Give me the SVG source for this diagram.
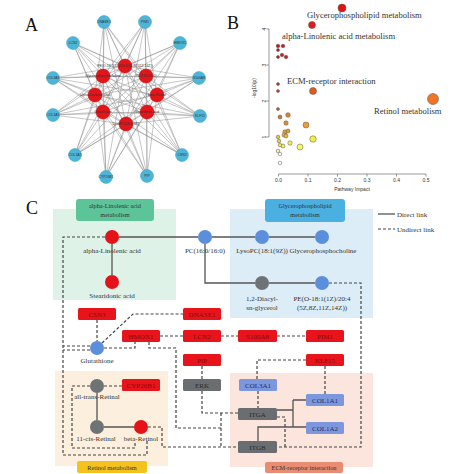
<svg xmlns="http://www.w3.org/2000/svg" width="474" height="474" viewBox="0 0 474 474">
<style>
text{font-family:"Liberation Serif","Times New Roman",serif;}
.pl{font-size:18px;fill:#111;}
.an{font-size:3.4px;fill:#333;text-anchor:middle;font-family:"Liberation Sans",Arial,sans-serif;}
.bl{fill:#4db5d8;stroke:#3a9fc2;stroke-width:0.5;}
.rd{fill:#e4141b;stroke:#c00;stroke-width:0.5;}
.ae{stroke:#8a8a8a;stroke-width:0.6;fill:none;opacity:0.8;}
.bc{stroke:#555;stroke-width:0.5;}
.bt{font-size:8.6px;fill:#333;}
.tk{font-size:5px;fill:#333;text-anchor:middle;font-family:"Liberation Sans",Arial,sans-serif;}
.ax{stroke:#555;stroke-width:0.6;fill:none;}
.lb{font-size:7px;fill:#333;text-anchor:middle;}
.hd{font-size:6.3px;fill:#333;text-anchor:middle;}
.sol{stroke:#555;stroke-width:1.3;fill:none;}
.dsh{stroke:#444;stroke-width:1.2;fill:none;stroke-dasharray:3 2;}
.cr{fill:#e4131a;}
.cb{fill:#5b8fdc;}
.cg{fill:#6e7376;}
.rr{fill:#e8141c;}
.rt{font-size:7px;fill:#8b0a0a;text-anchor:middle;}
.gr{fill:#6b6e70;}
.gt{font-size:7px;fill:#2a2a2a;text-anchor:middle;}
.br{fill:#7d97dc;}
.btx{font-size:7px;fill:#1d2d6a;text-anchor:middle;}
</style>

<!-- Panel A -->
<text class="pl" x="25" y="31">A</text>
<g id="A-edges">
<path class="ae" d="M104 22L125 66M104 22L103 76M104 22L146 76M104 22L95 95M104 22L157 95M104 22L103 112M104 22L147 112M104 22L126 124
M145 22L125 66M145 22L103 76M145 22L146 76M145 22L95 95M145 22L157 95M145 22L103 112M145 22L147 112M145 22L126 124
M73 43L125 66M73 43L103 76M73 43L146 76M73 43L95 95M73 43L157 95M73 43L103 112M73 43L147 112M73 43L126 124
M180 43L125 66M180 43L103 76M180 43L146 76M180 43L95 95M180 43L157 95M180 43L103 112M180 43L147 112M180 43L126 124
M53 78L125 66M53 78L103 76M53 78L146 76M53 78L95 95M53 78L157 95M53 78L103 112M53 78L147 112M53 78L126 124
M199 78L125 66M199 78L103 76M199 78L146 76M199 78L95 95M199 78L157 95M199 78L103 112M199 78L147 112M199 78L126 124
M53 115L125 66M53 115L103 76M53 115L146 76M53 115L95 95M53 115L157 95M53 115L103 112M53 115L147 112M53 115L126 124
M200 116L125 66M200 116L103 76M200 116L146 76M200 116L95 95M200 116L157 95M200 116L103 112M200 116L147 112M200 116L126 124
M75 155L125 66M75 155L103 76M75 155L146 76M75 155L95 95M75 155L157 95M75 155L103 112M75 155L147 112M75 155L126 124
M182 155L125 66M182 155L103 76M182 155L146 76M182 155L95 95M182 155L157 95M182 155L103 112M182 155L147 112M182 155L126 124
M106 177L125 66M106 177L103 76M106 177L146 76M106 177L95 95M106 177L157 95M106 177L103 112M106 177L147 112M106 177L126 124
M147 176L125 66M147 176L103 76M147 176L146 76M147 176L95 95M147 176L157 95M147 176L103 112M147 176L147 112M147 176L126 124"/>
</g>
<g id="A-DNASE1"><circle class="bl" cx="104" cy="22" r="6.5"/><text class="an" x="104" y="23.2">DNASE1</text></g>
<g id="A-PIM1"><circle class="bl" cx="145" cy="22" r="6.5"/><text class="an" x="145" y="23.2">PIM1</text></g>
<g id="A-LCN2"><circle class="bl" cx="73" cy="43" r="6.5"/><text class="an" x="73" y="44.2">LCN2</text></g>
<g id="A-HMOX1"><circle class="bl" cx="180" cy="43" r="6.5"/><text class="an" x="180" y="44.2">HMOX1</text></g>
<g id="A-COL3A1"><circle class="bl" cx="53" cy="78" r="6.5"/><text class="an" x="53" y="79.2">COL3A1</text></g>
<g id="A-S100A8"><circle class="bl" cx="199" cy="78" r="6.5"/><text class="an" x="199" y="79.2">S100A8</text></g>
<g id="A-COL1A1"><circle class="bl" cx="53" cy="115" r="6.5"/><text class="an" x="53" y="116.2">COL1A1</text></g>
<g id="A-KLF15"><circle class="bl" cx="200" cy="116" r="6.5"/><text class="an" x="200" y="117.2">KLF15</text></g>
<g id="A-COL1A2"><circle class="bl" cx="75" cy="155" r="6.5"/><text class="an" x="75" y="156.2">COL1A2</text></g>
<g id="A-CSN3"><circle class="bl" cx="182" cy="155" r="6.5"/><text class="an" x="182" y="156.2">CSN3</text></g>
<g id="A-CYP26B1"><circle class="bl" cx="106" cy="177" r="6.5"/><text class="an" x="106" y="178.2">CYP26B1</text></g>
<g id="A-PIP"><circle class="bl" cx="147" cy="176" r="6.5"/><text class="an" x="147" y="177.2">PIP</text></g>
<g id="A-m1"><circle class="rd" cx="125" cy="66" r="7"/><text class="an" x="125" y="67.2">PE(O-18:1(1Z)/20:4(5Z,8Z,11Z,14Z))</text></g>
<g id="A-m2"><circle class="rd" cx="103" cy="76" r="7"/><text class="an" x="103" y="77.2">Glycerophosphocholine</text></g>
<g id="A-m3"><circle class="rd" cx="146" cy="76" r="7"/><text class="an" x="146" y="77.2">PC(16:0/16:0)</text></g>
<g id="A-m4"><circle class="rd" cx="95" cy="95" r="7"/><text class="an" x="95" y="96.2">alpha-Linolenic acid</text></g>
<g id="A-m5"><circle class="rd" cx="157" cy="95" r="7"/><text class="an" x="157" y="96.2">beta-Retinol</text></g>
<g id="A-m6"><circle class="rd" cx="103" cy="112" r="7"/><text class="an" x="103" y="113.2">Glutathione</text></g>
<g id="A-m7"><circle class="rd" cx="147" cy="112" r="7"/><text class="an" x="147" y="113.2">Stearidonic acid</text></g>
<g id="A-m8"><circle class="rd" cx="126" cy="124" r="7"/><text class="an" x="126" y="125.2">LysoPC(18:1(9Z))</text></g>

<!-- Panel B -->
<text class="pl" x="227" y="29">B</text>
<g id="B-axes">
<path class="ax" d="M269 137V29M269 137h-2.5M269 101h-2.5M269 65h-2.5M269 29h-2.5"/>
<path class="ax" d="M278.5 174H426M278.5 174v2.5M308 174v2.5M337.5 174v2.5M367 174v2.5M396.5 174v2.5M426 174v2.5"/>
<text class="tk" transform="translate(264 137) rotate(-90)" y="1.5">1</text>
<text class="tk" transform="translate(264 101) rotate(-90)" y="1.5">2</text>
<text class="tk" transform="translate(264 65) rotate(-90)" y="1.5">3</text>
<text class="tk" transform="translate(264 29) rotate(-90)" y="1.5">4</text>
<text class="tk" x="278.5" y="182">0.0</text>
<text class="tk" x="308" y="182">0.1</text>
<text class="tk" x="337.5" y="182">0.2</text>
<text class="tk" x="367" y="182">0.3</text>
<text class="tk" x="396.5" y="182">0.4</text>
<text class="tk" x="426" y="182">0.5</text>
<text class="tk" x="352" y="191">Pathway Impact</text>
<text class="tk" transform="translate(254 88) rotate(-90)" y="1.5">-log10(p)</text>
</g>
<g id="B-points">
<circle class="bc" cx="342" cy="8" r="4" fill="#e8100e"/>
<circle class="bc" cx="312" cy="25" r="3.5" fill="#e41a1c"/>
<circle class="bc" cx="278" cy="46" r="1.8" fill="#c0161a"/>
<circle class="bc" cx="283" cy="46" r="1.8" fill="#c41a1a"/>
<circle class="bc" cx="278" cy="50" r="1.5" fill="#b5191a"/>
<circle class="bc" cx="282" cy="55" r="1.8" fill="#c81e1e"/>
<circle class="bc" cx="278" cy="57" r="1.5" fill="#c01a1a"/>
<circle class="bc" cx="286" cy="57" r="1.8" fill="#c81e1e"/>
<circle class="bc" cx="278" cy="84" r="1.5" fill="#b83a20"/>
<circle class="bc" cx="278" cy="91" r="1.5" fill="#c24020"/>
<circle class="bc" cx="313" cy="91" r="3.5" fill="#e35a1e"/>
<circle class="bc" cx="433" cy="99" r="5.5" fill="#f07526"/>
<circle class="bc" cx="278" cy="109" r="1.5" fill="#b8652a"/>
<circle class="bc" cx="280" cy="117" r="2" fill="#d07828"/>
<circle class="bc" cx="288" cy="115" r="2.3" fill="#e08530"/>
<circle class="bc" cx="286" cy="123" r="2.2" fill="#e09030"/>
<circle class="bc" cx="306" cy="125" r="3" fill="#f0a030"/>
<circle class="bc" cx="285" cy="132" r="2.2" fill="#e8a030"/>
<circle class="bc" cx="288" cy="131" r="2" fill="#e0a030"/>
<circle class="bc" cx="284" cy="135" r="2" fill="#e8b830"/>
<circle class="bc" cx="286" cy="136" r="2" fill="#eeb828"/>
<circle class="bc" cx="278" cy="137" r="1.8" fill="#e8c830"/>
<circle class="bc" cx="279" cy="141" r="1.8" fill="#e8d040"/>
<circle class="bc" cx="313" cy="139" r="3.2" fill="#f5f040"/>
<circle class="bc" cx="300" cy="147" r="3" fill="#f8f860"/>
<circle class="bc" cx="290" cy="143" r="2.2" fill="#f5f050"/>
<circle class="bc" cx="283" cy="146" r="2" fill="#f5f060"/>
<circle class="bc" cx="280" cy="145" r="1.8" fill="#e8e850"/>
<circle class="bc" cx="278" cy="151" r="1.8" fill="#f0f0a0"/>
<circle class="bc" cx="280" cy="154" r="1.8" fill="#fafafa"/>
<circle class="bc" cx="280" cy="163" r="1.8" fill="#ffffff"/>
</g>
<g id="B-labels">
<text class="bt" x="307" y="18">Glycerophospholipid metabolism</text>
<text class="bt" x="282" y="39">alpha-Linolenic acid metabolism</text>
<text class="bt" x="287" y="84">ECM-receptor interaction</text>
<text class="bt" x="374" y="114">Retinol metabolism</text>
</g>

<!-- Panel C -->
<text class="pl" x="26" y="214">C</text>
<g id="C-backgrounds">
<rect x="53" y="209" width="123" height="91" fill="#dff2e8"/>
<rect x="230" y="209" width="143" height="109" fill="#dcedf7"/>
<rect x="55" y="371" width="113" height="95" fill="#fdefdd"/>
<rect x="230" y="373" width="143" height="94" fill="#fbe5dc"/>
</g>
<g id="C-hdr-ala"><rect x="76" y="199" width="78" height="22" rx="3" fill="#5dc499"/><text class="hd" x="115" y="208">alpha-Linolenic acid</text><text class="hd" x="115" y="217">metabolism</text></g>
<g id="C-hdr-gpl"><rect x="265" y="199" width="80" height="23" rx="3" fill="#4ab0e2"/><text class="hd" x="305" y="208">Glycerophospholipid</text><text class="hd" x="305" y="217">metabolism</text></g>
<g id="C-hdr-ret"><rect x="77" y="461" width="70" height="12" rx="2" fill="#f4c21c"/><text class="hd" x="112" y="469.5">Retinol metabolism</text></g>
<g id="C-hdr-ecm"><rect x="265" y="462" width="78" height="11" rx="2" fill="#e98c72"/><text class="hd" x="304" y="470">ECM-receptor interaction</text></g>

<g id="C-legend">
<path class="sol" d="M378 214H395"/><text class="lb" x="397" y="216.5" text-anchor="start" style="text-anchor:start">Direct link</text>
<path class="dsh" d="M378 229H395"/><text class="lb" x="397" y="231.5" style="text-anchor:start">Undirect link</text>
</g>

<g id="C-connectors">
<path class="sol" d="M119 237H198M212 237H255M269 237H315M112 244V275M205 244V283H255M269 283H315M97 393V420M104 427H134M277 410H293M293 400V427M293 400H306M293 427H306M258 441V427H293"/>
<path class="dsh" d="M105 237H63V455H147V441M90 346H63M90 350H63M90 386H72V448H135V443M104 386H122M148 427H162V447H238M97 320V341M102 343L133 314H183M104 348H135V342M149 342V348H176V428H221M221 413V447M160 336H183M221 336H238M277 336H306M202 366V379M202 391V413H238M306 360H257V379M258 391V408M325 366V394M329 283H361V447H277M277 417H285V447"/>
</g>

<g id="C-ala"><circle class="cr" cx="112" cy="237" r="7"/><text class="lb" x="112" y="253">alpha-Linolenic acid</text></g>
<g id="C-sda"><circle class="cr" cx="112" cy="282" r="7"/><text class="lb" x="112" y="298">Stearidonic acid</text></g>
<g id="C-pc"><circle class="cb" cx="205" cy="237" r="7"/><text class="lb" x="205" y="253">PC(16:0/16:0)</text></g>
<g id="C-lysopc"><circle class="cb" cx="262" cy="237" r="7"/><text class="lb" x="262" y="253">LysoPC(18:1(9Z))</text></g>
<g id="C-gpc"><circle class="cb" cx="322" cy="237" r="7"/><text class="lb" x="323" y="253">Glycerophosphocholine</text></g>
<g id="C-dag"><circle class="cg" cx="262" cy="283" r="7"/><text class="lb" x="262" y="301">1,2-Diacyl-</text><text class="lb" x="262" y="310">sn-glycerol</text></g>
<g id="C-pe"><circle class="cb" cx="322" cy="283" r="7"/><text class="lb" x="322" y="301">PE(O-18:1(1Z)/20:4</text><text class="lb" x="322" y="310">(5Z,8Z,11Z,14Z))</text></g>
<g id="C-gsh"><circle class="cb" cx="97" cy="348" r="7"/><text class="lb" x="97" y="363">Glutathione</text></g>
<g id="C-atral"><circle class="cg" cx="97" cy="386" r="7"/><text class="lb" x="97" y="399">all-trans-Retinal</text></g>
<g id="C-cisral"><circle class="cg" cx="97" cy="427" r="7"/><text class="lb" x="96" y="441">11-cis-Retinal</text></g>
<g id="C-bret"><circle class="cr" cx="141" cy="427" r="7"/><text class="lb" x="141" y="441">beta-Retinol</text></g>

<g id="C-CSN3"><rect class="rr" x="78" y="308" width="38" height="12" rx="1.5"/><text class="rt" x="97" y="316.5">CSN3</text></g>
<g id="C-DNASE1"><rect class="rr" x="183" y="308" width="38" height="12" rx="1.5"/><text class="rt" x="202" y="316.5">DNASE1</text></g>
<g id="C-HMOX1"><rect class="rr" x="122" y="330" width="38" height="12" rx="1.5"/><text class="rt" x="141" y="338.5">HMOX1</text></g>
<g id="C-LCN2"><rect class="rr" x="183" y="330" width="38" height="12" rx="1.5"/><text class="rt" x="202" y="338.5">LCN2</text></g>
<g id="C-S100A8"><rect class="rr" x="238" y="330" width="39" height="12" rx="1.5"/><text class="rt" x="257.5" y="338.5">S100A8</text></g>
<g id="C-PIM1"><rect class="rr" x="306" y="330" width="38" height="12" rx="1.5"/><text class="rt" x="325" y="338.5">PIM1</text></g>
<g id="C-PIP"><rect class="rr" x="183" y="354" width="38" height="12" rx="1.5"/><text class="rt" x="202" y="362.5">PIP</text></g>
<g id="C-KLF15"><rect class="rr" x="306" y="354" width="38" height="12" rx="1.5"/><text class="rt" x="325" y="362.5">KLF15</text></g>
<g id="C-CYP26B1"><rect class="rr" x="122" y="379" width="38" height="12" rx="1.5"/><text class="rt" x="141" y="387.5">CYP26B1</text></g>
<g id="C-ERK"><rect class="gr" x="183" y="379" width="38" height="12" rx="1.5"/><text class="gt" x="202" y="387.5">ERK</text></g>
<g id="C-COL3A1"><rect class="br" x="239" y="379" width="38" height="12" rx="1.5"/><text class="btx" x="258" y="387.5">COL3A1</text></g>
<g id="C-COL1A1"><rect class="br" x="306" y="394" width="38" height="12" rx="1.5"/><text class="btx" x="325" y="402.5">COL1A1</text></g>
<g id="C-COL1A2"><rect class="br" x="306" y="422" width="38" height="12" rx="1.5"/><text class="btx" x="325" y="430.5">COL1A2</text></g>
<g id="C-ITGA"><rect class="gr" x="238" y="408" width="39" height="12" rx="1.5"/><text class="gt" x="257.5" y="416.5">ITGA</text></g>
<g id="C-ITGB"><rect class="gr" x="238" y="441" width="39" height="12" rx="1.5"/><text class="gt" x="257.5" y="449.5">ITGB</text></g>
</svg>
